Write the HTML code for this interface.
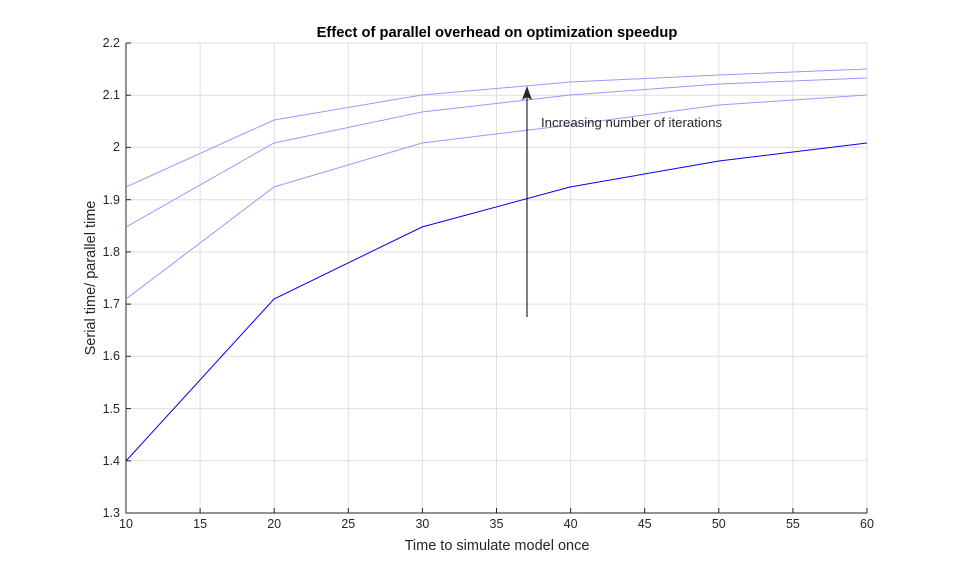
<!DOCTYPE html>
<html><head><meta charset="utf-8"><style>
body{margin:0;background:#fff;}
svg text{font-family:"Liberation Sans",sans-serif;}
</style></head><body>
<svg width="959" height="577" xmlns="http://www.w3.org/2000/svg">
<rect width="959" height="577" fill="#fff"/>
<g stroke="#dfdfdf" stroke-width="1">
<line x1="200.1" y1="43" x2="200.1" y2="513"/><line x1="274.2" y1="43" x2="274.2" y2="513"/>
<line x1="348.3" y1="43" x2="348.3" y2="513"/><line x1="422.4" y1="43" x2="422.4" y2="513"/>
<line x1="496.5" y1="43" x2="496.5" y2="513"/><line x1="570.6" y1="43" x2="570.6" y2="513"/>
<line x1="644.7" y1="43" x2="644.7" y2="513"/><line x1="718.8" y1="43" x2="718.8" y2="513"/>
<line x1="792.9" y1="43" x2="792.9" y2="513"/><line x1="867" y1="43" x2="867" y2="513"/>
<line x1="126" y1="43" x2="867" y2="43"/>
<line x1="126" y1="95.2" x2="867" y2="95.2"/><line x1="126" y1="147.4" x2="867" y2="147.4"/>
<line x1="126" y1="199.7" x2="867" y2="199.7"/><line x1="126" y1="251.9" x2="867" y2="251.9"/>
<line x1="126" y1="304.1" x2="867" y2="304.1"/><line x1="126" y1="356.3" x2="867" y2="356.3"/>
<line x1="126" y1="408.6" x2="867" y2="408.6"/><line x1="126" y1="460.8" x2="867" y2="460.8"/>
</g>
<polyline points="126,43 126,513 867,513" fill="none" stroke="#262626" stroke-width="1"/>
<g stroke="#262626" stroke-width="1">
<line x1="126" y1="43" x2="131" y2="43"/><line x1="126" y1="95.2" x2="131" y2="95.2"/>
<line x1="126" y1="147.4" x2="131" y2="147.4"/><line x1="126" y1="199.7" x2="131" y2="199.7"/>
<line x1="126" y1="251.9" x2="131" y2="251.9"/><line x1="126" y1="304.1" x2="131" y2="304.1"/>
<line x1="126" y1="356.3" x2="131" y2="356.3"/><line x1="126" y1="408.6" x2="131" y2="408.6"/>
<line x1="126" y1="460.8" x2="131" y2="460.8"/>
<line x1="200.1" y1="513" x2="200.1" y2="508"/><line x1="274.2" y1="513" x2="274.2" y2="508"/>
<line x1="348.3" y1="513" x2="348.3" y2="508"/><line x1="422.4" y1="513" x2="422.4" y2="508"/>
<line x1="496.5" y1="513" x2="496.5" y2="508"/><line x1="570.6" y1="513" x2="570.6" y2="508"/>
<line x1="644.7" y1="513" x2="644.7" y2="508"/><line x1="718.8" y1="513" x2="718.8" y2="508"/>
<line x1="792.9" y1="513" x2="792.9" y2="508"/><line x1="867" y1="513" x2="867" y2="508"/>
</g>
<g fill="none" stroke-width="1">
<polyline stroke="#9999ff" points="126,187 274,120 422,95 570,82 719,75 867,69"/>
<polyline stroke="#9999ff" points="126,227 274,143 422,112 570,95 719,84 867,78"/>
<polyline stroke="#9999ff" points="126,299 274,187 422,143 570,125 719,105 867,95"/>
<polyline stroke="#0000ff" points="126,461 274,299 422,227 570,187 719,161 867,143"/>
</g>
<line x1="527" y1="317" x2="527" y2="95" stroke="#000" stroke-width="1"/>
<polygon points="527,86 522,100 527,97 532,100" fill="#262626"/>
<text x="541" y="127" font-size="13.2" fill="#262626">Increasing number of iterations</text>
<g font-size="12.5" fill="#262626" text-anchor="middle">
<text x="126" y="528">10</text><text x="200.1" y="528">15</text><text x="274.2" y="528">20</text>
<text x="348.3" y="528">25</text><text x="422.4" y="528">30</text><text x="496.5" y="528">35</text>
<text x="570.6" y="528">40</text><text x="644.7" y="528">45</text><text x="718.8" y="528">50</text>
<text x="792.9" y="528">55</text><text x="867" y="528">60</text>
</g>
<g font-size="12.5" fill="#262626" text-anchor="end">
<text x="120" y="47">2.2</text><text x="120" y="99">2.1</text><text x="120" y="151">2</text>
<text x="120" y="204">1.9</text><text x="120" y="256">1.8</text><text x="120" y="308">1.7</text>
<text x="120" y="360">1.6</text><text x="120" y="413">1.5</text><text x="120" y="465">1.4</text>
<text x="120" y="517">1.3</text>
</g>
<text x="497" y="550" font-size="14.5" fill="#262626" text-anchor="middle">Time to simulate model once</text>
<text transform="translate(95,278) rotate(-90)" font-size="14.5" fill="#262626" text-anchor="middle">Serial time/ parallel time</text>
<text x="497" y="37" font-size="14.7" font-weight="bold" fill="#000" text-anchor="middle">Effect of parallel overhead on optimization speedup</text>
</svg>
</body></html>
